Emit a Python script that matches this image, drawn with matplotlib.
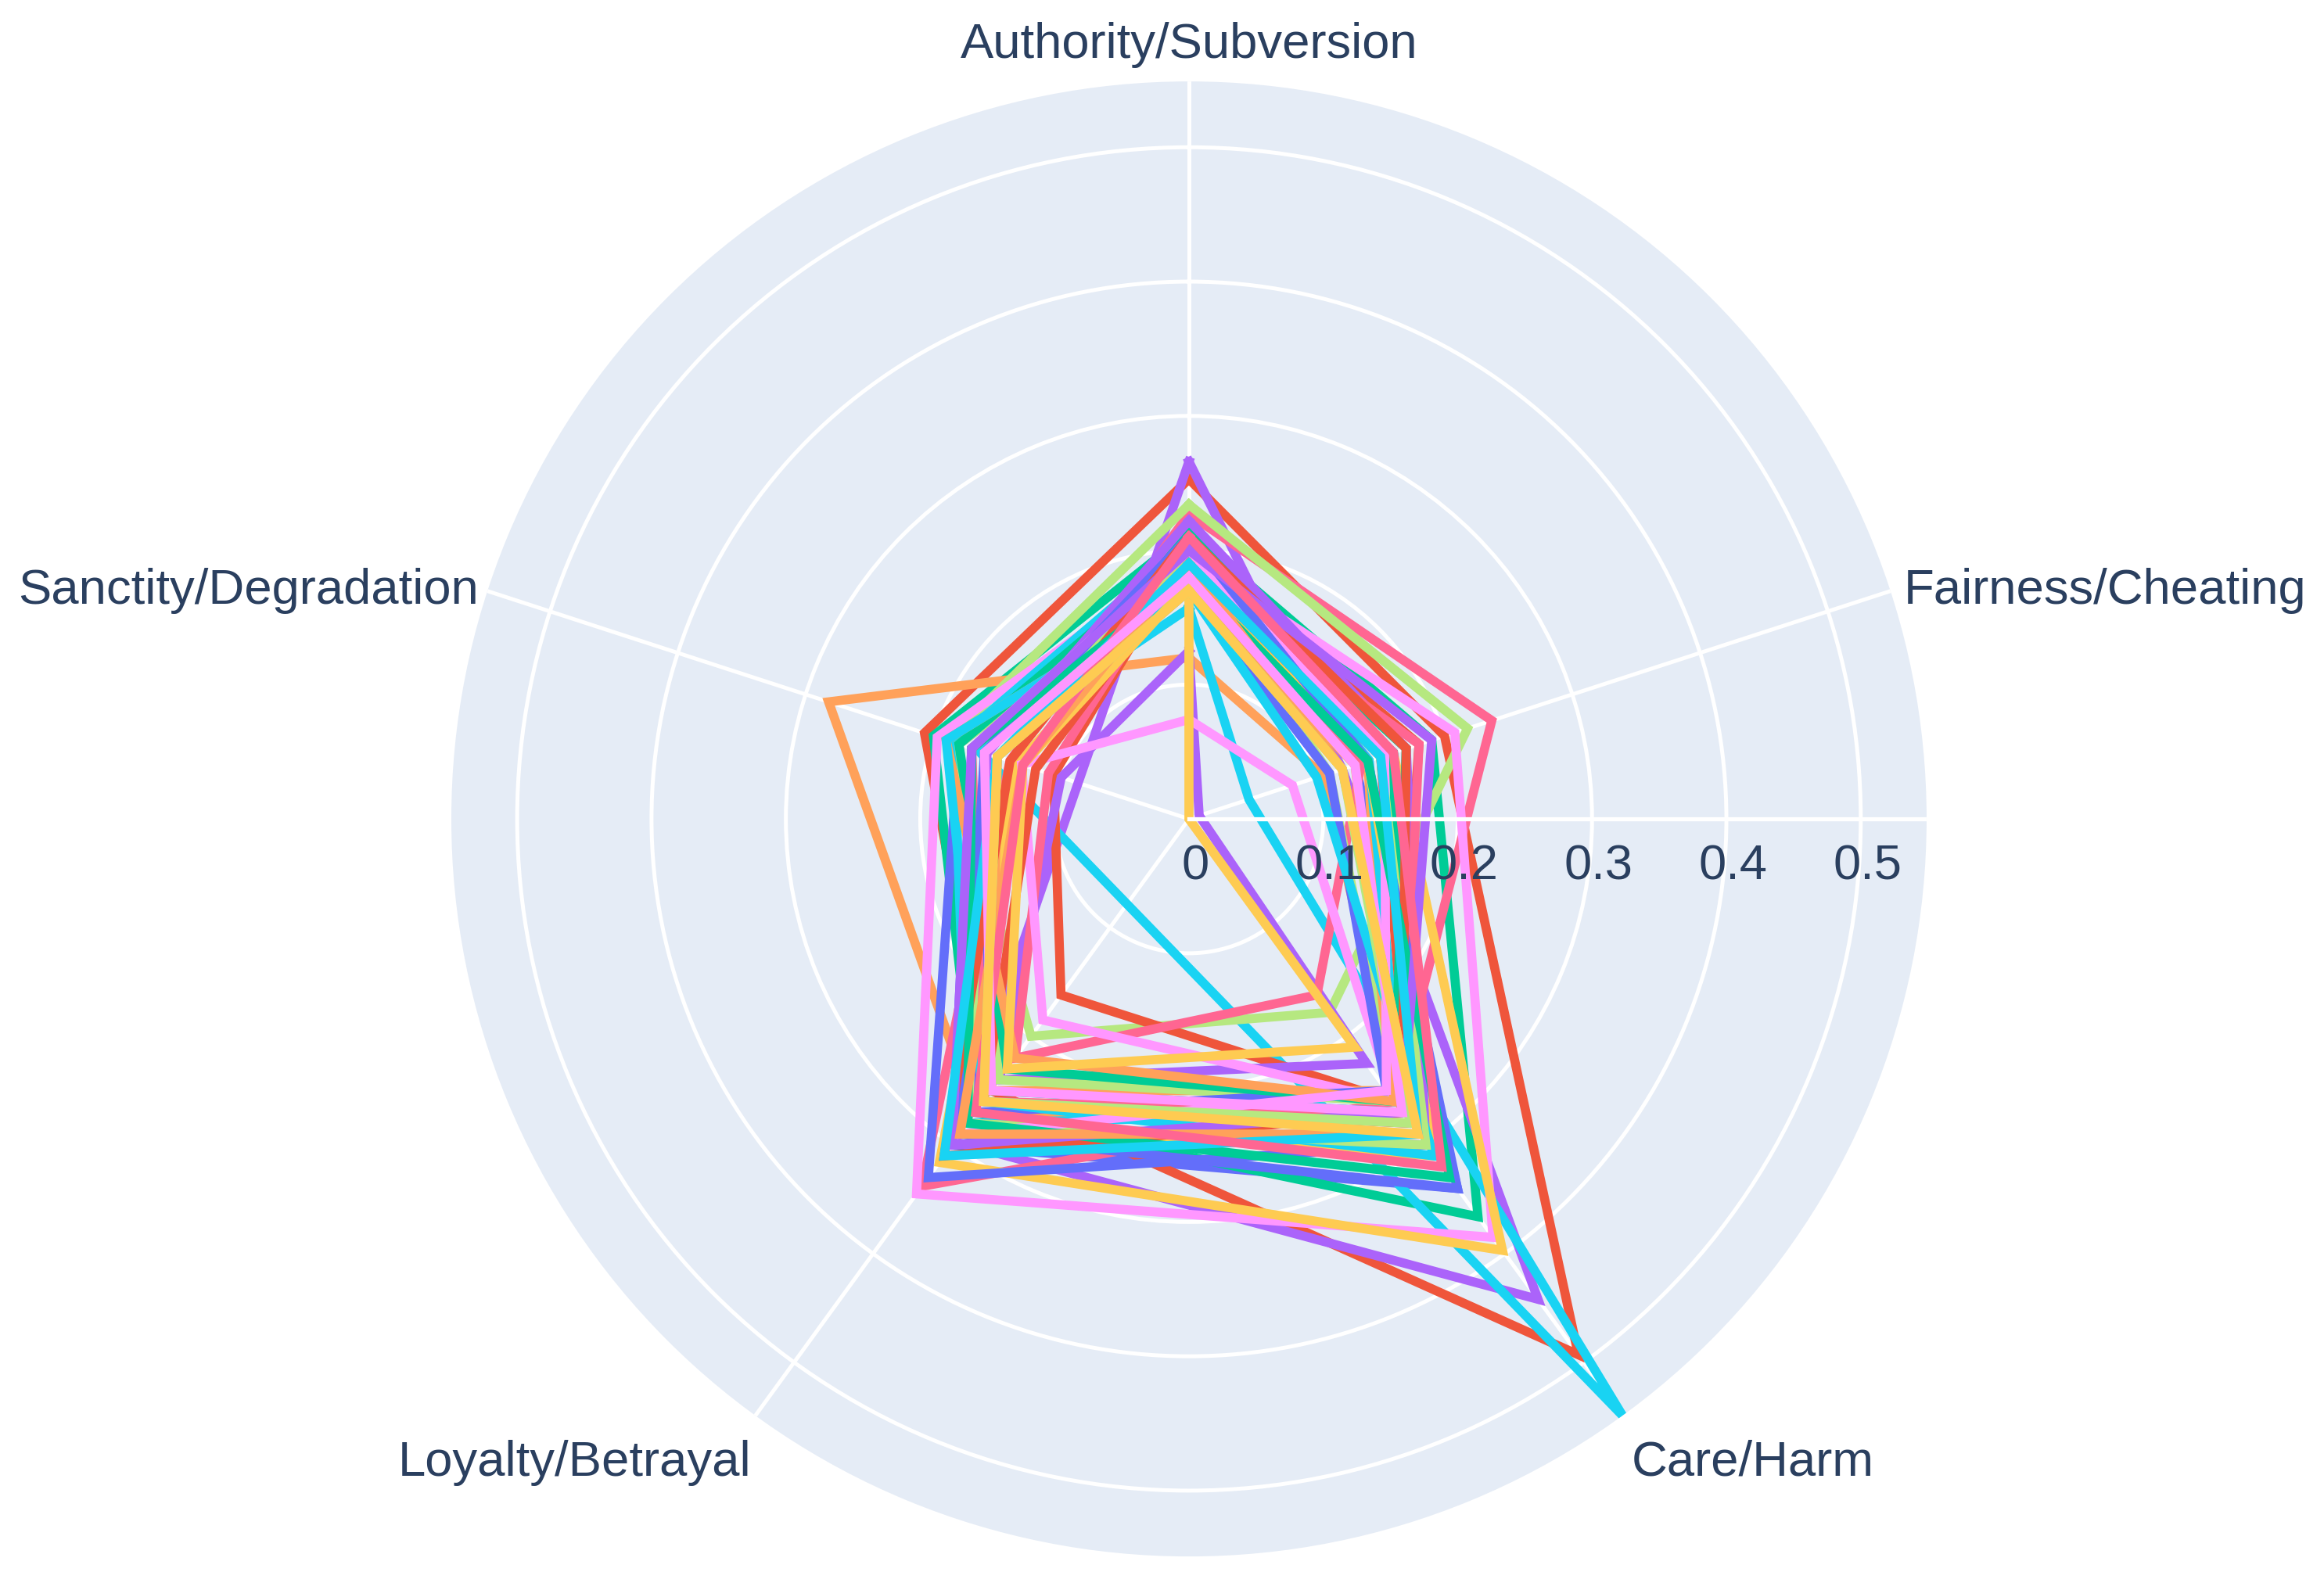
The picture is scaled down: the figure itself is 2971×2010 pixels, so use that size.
import numpy as np
import matplotlib.pyplot as plt

plt.rcParams['font.family'] = ['Liberation Sans', 'DejaVu Sans']

categories = ["Authority/Subversion", "Fairness/Cheating", "Care/Harm",
              "Loyalty/Betrayal", "Sanctity/Degradation"]

# one value per trace, None where the trace has no value for that foundation
authority = [0.200, 0.253, 0.213, 0.266, 0.120, 0.157, 0.227, 0.234, 0.195, 0.180,
             0.190, 0.200, 0.190, 0.125, 0.181, 0.206, 0.200, 0.187, 0.074, 0.190,
             0.170, 0.190, 0.200, 0.222, 0.170, 0.170, 0.180, 0.200, 0.200, 0.175,
             0.210, 0.210, 0.180, 0.200, 0.190, 0.190, 0.210, 0.170, 0.180, 0.170]
fairness = [0.130, 0.200, 0.190, 0.120, 0.105, 0.047, 0.237, 0.218, 0.208, 0.160,
            0.160, 0.180, 0.160, 0.008, 0.140, 0.141, 0.135, 0.110, 0.081, 0.140,
            0.110, 0.150, 0.170, 0.170, 0.130, 0.100, 0.180, 0.150, 0.153, 0.000,
            0.140, 0.170, 0.140, 0.190, 0.120, 0.150, 0.160, 0.120, 0.130, 0.120]
care = [0.340, 0.493, 0.366, 0.442, 0.270, 0.549, 0.260, 0.178, 0.385, 0.397,
        0.300, 0.260, 0.270, 0.225, 0.250, 0.270, 0.162, 0.260, 0.260, 0.310,
        0.250, 0.280, 0.260, 0.300, 0.260, 0.310, 0.270, 0.300, 0.250, 0.210,
        0.340, 0.270, 0.330, 0.270, 0.290, 0.290, 0.320, 0.280, 0.270, 0.290]
loyalty = [0.300, 0.250, 0.270, 0.297, 0.270, None, 0.338, 0.200, 0.345, 0.316,
           0.330, 0.162, 0.250, 0.240, 0.250, 0.280, 0.220, 0.240, 0.185, 0.280,
           0.270, 0.260, 0.230, 0.280, 0.220, 0.260, 0.260, 0.280, 0.290, 0.230,
           0.290, 0.310, 0.280, 0.300, 0.290, 0.310, 0.270, 0.260, 0.250, 0.260]
sanctity = [0.170, 0.207, 0.200, None, 0.282, 0.165, 0.140, 0.189, 0.197, 0.134,
            0.180, 0.106, 0.160, 0.100, 0.150, 0.184, 0.110, 0.180, 0.131, 0.170,
            0.150, 0.120, 0.180, 0.158, 0.190, 0.190, 0.170, 0.160, 0.170, 0.130,
            0.160, 0.140, 0.170, 0.170, 0.130, 0.150, 0.130, 0.150, 0.160, 0.150]

radial_ticks = [0, 0.1, 0.2, 0.3, 0.4, 0.5]
tick_labels = ["0", "0.1", "0.2", "0.3", "0.4", "0.5"]

palette = ['#636EFA', '#EF553B', '#00CC96', '#AB63FA', '#FFA15A',
           '#19D3F3', '#FF6692', '#B6E880', '#FF97FF', '#FECB52']
text_color = '#2a3f5f'

fig = plt.figure(figsize=(2971 / 200, 2010 / 200), dpi=200)
ax = fig.add_axes([0.1942, 0.0099, 0.6348, 0.9383], projection='polar')
ax.set_theta_offset(np.pi / 2)
ax.set_theta_direction(-1)
ax.set_facecolor('#E5ECF6')

angles = np.arange(len(categories)) * 2 * np.pi / len(categories)
columns = [authority, fairness, care, loyalty, sanctity]

rmax = 0
for i in range(len(authority)):
    vals = [col[i] for col in columns]
    th = [angles[k] for k, v in enumerate(vals) if v is not None]
    r = [v for v in vals if v is not None]
    th.append(th[0])
    r.append(r[0])
    rmax = max(rmax, max(r))
    ax.plot(th, r, color=palette[i % len(palette)], lw=4.2,
            solid_joinstyle='miter', zorder=2)

ax.set_ylim(0, rmax)
ax.set_yticks(radial_ticks[1:])
ax.set_yticklabels([])
ax.set_xticks(angles)
ax.set_xticklabels([])
ax.grid(color='white', lw=1.8)
ax.spines['polar'].set_visible(False)

# radial axis line sits on top of the traces, like plotly
ax.plot([np.pi / 2, np.pi / 2], [0, rmax], color='white', lw=1.9, zorder=5)
for t, lab in zip(radial_ticks, tick_labels):
    ax.annotate(lab, xy=(np.pi / 2, t), xytext=(3, -28), textcoords='offset points',
                ha='center', va='baseline', fontsize=22.8, color=text_color, zorder=6)

# category labels just outside the outer edge
label_style = [((0, 6), 'center', 'bottom'),
               ((6, 0), 'left', 'center'),
               ((4, -11), 'left', 'top'),
               ((-2, -11), 'right', 'top'),
               ((-4, 0), 'right', 'center')]
for ang, name, (off, ha, va) in zip(angles, categories, label_style):
    ax.annotate(name, xy=(ang, rmax), xytext=off, textcoords='offset points',
                ha=ha, va=va, fontsize=22.8, color=text_color, annotation_clip=False)

fig.savefig('out.png', dpi=200)
